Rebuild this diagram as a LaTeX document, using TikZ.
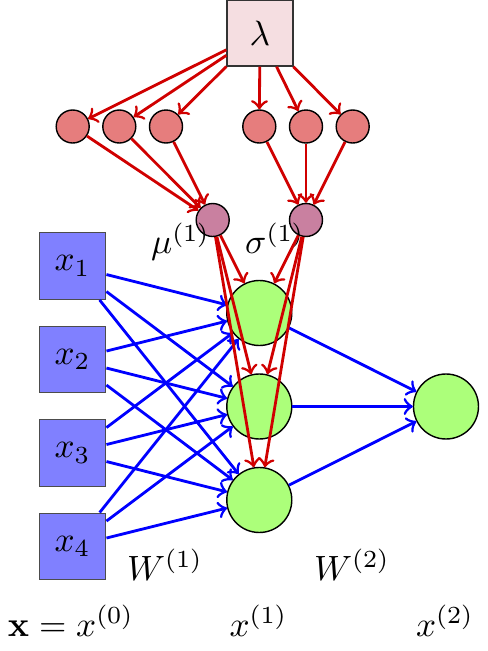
\documentclass[tikz,border=0pt]{standalone}
\usepackage{tikz}
\usetikzlibrary{positioning}
\definecolor{inblue}{RGB}{128,128,255}
\definecolor{hidgreen}{RGB}{172,255,122}
\definecolor{priorred}{RGB}{230,125,125}
\definecolor{parampink}{RGB}{201,128,160}
\definecolor{lampink}{RGB}{245,222,225}
\definecolor{redline}{RGB}{208,0,0}
\tikzstyle{lambox} = [rectangle, minimum size=0.66cm, inner sep=0pt, draw=black!80, fill=lampink]
\tikzstyle{prior} = [circle, minimum size=0.33cm, inner sep=0pt, draw=black, fill=priorred]
\tikzstyle{param} = [circle, minimum size=0.33cm, inner sep=0pt, draw=black, fill=parampink]
\tikzstyle{inbox} = [rectangle, minimum size=0.665cm, inner sep=0pt, draw=black!70, fill=inblue]
\tikzstyle{neuron} = [circle, minimum size=0.65cm, inner sep=0pt, draw=black, fill=hidgreen]
\tikzstyle{redarrow} = [thick,->,>=to,draw=redline]
\tikzstyle{bluearrow} = [thick,->,>=to,draw=blue]

\begin{document}
\begin{tikzpicture}[node distance=0.935cm]
\useasboundingbox (0,0) rectangle (4.88,6.51);

% Nodes
\node (lam) [lambox] at (2.60,6.18) {$\lambda$};
\node (a1) [prior] at (0.727,5.245) {};
\node (a2) [prior] at (1.193,5.245) {};
\node (a3) [prior] at (1.660,5.245) {};
\node (b1) [prior] at (2.593,5.245) {};
\node (b2) [prior] at (3.060,5.245) {};
\node (b3) [prior] at (3.527,5.245) {};
\node (mu) [param] at (2.127,4.31) {};
\node (sigma) [param] at (3.06,4.31) {};

\node (x1) [inbox] at (0.725,3.85) {$x_1$};
\node (x2) [inbox, below of=x1] {$x_2$};
\node (x3) [inbox, below of=x2] {$x_3$};
\node (x4) [inbox, below of=x3] {$x_4$};

\node (h1) [neuron] at (2.593,3.38) {};
\node (h2) [neuron, below of=h1] {};
\node (h3) [neuron, below of=h2] {};
\node (out) [neuron] at (4.46,2.445) {};

% Labels
\node (mulab) [anchor=north east, inner sep=0pt] at ([xshift=-0.02cm, yshift=-0.02cm]mu.center) {$\mu^{(1)}$};
\node (siglab) [anchor=north east, inner sep=0pt] at ([xshift=-0.01cm, yshift=-0.02cm]sigma.center) {$\sigma^{(1)}$};
\node (w1) [anchor=base] at (1.65,0.71) {$W^{(1)}$};
\node (w2) [anchor=base] at (3.52,0.71) {$W^{(2)}$};
\node (l0) [anchor=base] at (0.71,0.15) {$\mathbf{x} = x^{(0)}$};
\node (l1) [anchor=base] at (2.585,0.15) {$x^{(1)}$};
\node (l2) [anchor=base] at (4.45,0.15) {$x^{(2)}$};

% Arrows
\draw [bluearrow] (x1) -- (h1); \draw [bluearrow] (x1) -- (h2); \draw [bluearrow] (x1) -- (h3);
\draw [bluearrow] (x2) -- (h1); \draw [bluearrow] (x2) -- (h2); \draw [bluearrow] (x2) -- (h3);
\draw [bluearrow] (x3) -- (h1); \draw [bluearrow] (x3) -- (h2); \draw [bluearrow] (x3) -- (h3);
\draw [bluearrow] (x4) -- (h1); \draw [bluearrow] (x4) -- (h2); \draw [bluearrow] (x4) -- (h3);
\draw [bluearrow] (h1) -- (out);
\draw [bluearrow] (h2) -- (out);
\draw [bluearrow] (h3) -- (out);

\draw [redarrow] (lam) -- (a1); \draw [redarrow] (lam) -- (a2); \draw [redarrow] (lam) -- (a3);
\draw [redarrow] (lam) -- (b1); \draw [redarrow] (lam) -- (b2); \draw [redarrow] (lam) -- (b3);
\draw [redarrow] (a1) -- (mu); \draw [redarrow] (a2) -- (mu); \draw [redarrow] (a3) -- (mu);
\draw [redarrow] (b1) -- (sigma); \draw [redarrow] (b2) -- (sigma); \draw [redarrow] (b3) -- (sigma);
\draw [redarrow] (mu) -- (h1); \draw [redarrow] (mu) -- (h2); \draw [redarrow] (mu) -- (h3);
\draw [redarrow] (sigma) -- (h1); \draw [redarrow] (sigma) -- (h2); \draw [redarrow] (sigma) -- (h3);

\end{tikzpicture}
\end{document}
